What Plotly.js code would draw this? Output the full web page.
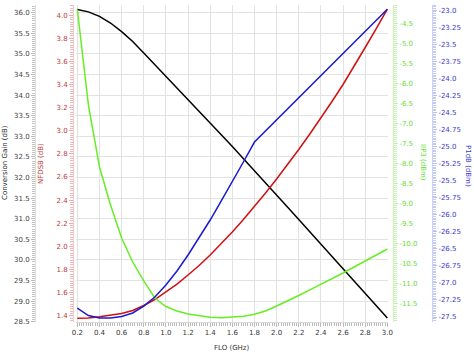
<!DOCTYPE html>
<html>
<head>
<meta charset="utf-8">
<script src="https://cdn.plot.ly/plotly-3.0.1.min.js"></script>
<style>html,body{margin:0;padding:0;background:#fff;}#chart{width:474px;height:352px;}</style>
</head>
<body>
<div id="chart"></div>
<script>
// FLO frequency (GHz)
const flo = [0.2,0.3,0.4,0.5,0.6,0.7,0.8,0.9,1.0,1.1,1.2,1.3,1.4,1.5,1.6,1.7,1.8,1.9,2.0,2.1,2.2,2.3,2.4,2.5,2.6,2.7,2.8,2.9,3.0];
// Conversion Gain (dB)
const convGain = [36.08,36.02,35.91,35.75,35.54,35.30,35.02,34.74,34.46,34.17,33.88,33.60,33.32,33.04,32.75,32.46,32.17,31.87,31.58,31.28,30.98,30.68,30.39,30.09,29.79,29.50,29.20,28.89,28.59];
// NFDSB (dB)
const nfdsb = [1.378,1.380,1.390,1.403,1.419,1.445,1.488,1.540,1.605,1.674,1.752,1.834,1.925,2.020,2.124,2.232,2.345,2.461,2.583,2.708,2.838,2.972,3.110,3.253,3.400,3.556,3.720,3.884,4.051];
// IIP3 (dBm)
const iip3 = [-4.156,-6.537,-8.084,-9.031,-9.854,-10.453,-10.926,-11.350,-11.562,-11.675,-11.749,-11.799,-11.832,-11.842,-11.832,-11.804,-11.757,-11.675,-11.550,-11.425,-11.288,-11.149,-11.014,-10.877,-10.727,-10.577,-10.428,-10.278,-10.128];
// P1dB (dBm)
const p1db = [-27.368,-27.478,-27.515,-27.515,-27.493,-27.441,-27.339,-27.207,-27.031,-26.825,-26.590,-26.341,-26.077,-25.798,-25.519,-25.226,-24.933,-24.771,-24.608,-24.446,-24.284,-24.121,-23.959,-23.797,-23.635,-23.472,-23.310,-23.148,-22.986];

// tick labels
const xTickVals = [0.2,0.4,0.6,0.8,1.0,1.2,1.4,1.6,1.8,2.0,2.2,2.4,2.6,2.8,3.0];
const cgTickVals = [28.5,29.0,29.5,30.0,30.5,31.0,31.5,32.0,32.5,33.0,33.5,34.0,34.5,35.0,35.5,36.0];
const nfTickVals = [1.4,1.6,1.8,2.0,2.2,2.4,2.6,2.8,3.0,3.2,3.4,3.6,3.8,4.0];
const iipTickVals = [-4.5,-5.0,-5.5,-6.0,-6.5,-7.0,-7.5,-8.0,-8.5,-9.0,-9.5,-10.0,-10.5,-11.0,-11.5];
const iipTickText = ['-4.5','-5.0','-5.5','-6.0','-6.5','-7.0','-7.5','-8.0','-8.5','-9.0','-9.5','-10.0','-10.5','-11.0','-11.5'];
const p1TickVals = [-23.0,-23.25,-23.5,-23.75,-24.0,-24.25,-24.5,-24.75,-25.0,-25.25,-25.5,-25.75,-26.0,-26.25,-26.5,-26.75,-27.0,-27.25,-27.5];
const p1TickText = ['-23.0','-23.25','-23.5','-23.75','-24.0','-24.25','-24.5','-24.75','-25.0','-25.25','-25.5','-25.75','-26.0','-26.25','-26.5','-26.75','-27.0','-27.25','-27.5'];

const W = 474, H = 352, T = 5, B = 30;
const px = v => v / W;
const py = v => (H - B - v) / (H - T - B);
const FONT = 'DejaVu Sans';

const traces = [
  {x: flo, y: convGain, yaxis: 'y', mode: 'lines', line: {color: '#000000', width: 1.5}},
  {x: flo, y: nfdsb, yaxis: 'y2', mode: 'lines', line: {color: '#d01010', width: 1.5}},
  {x: flo, y: iip3, yaxis: 'y3', mode: 'lines', line: {color: '#66ee22', width: 1.5}},
  {x: flo, y: p1db, yaxis: 'y4', mode: 'lines', line: {color: '#1a1ad0', width: 1.5}}
];

function yax(opts) {
  return Object.assign({
    anchor: 'free', ticks: 'outside', ticklen: 4, tickwidth: 1,
    showline: true, linewidth: 1, zeroline: false, showgrid: false,
    tickfont: {family: FONT, size: 7}, fixedrange: true
  }, opts);
}

const layout = {
  width: W, height: H,
  margin: {l: 0, r: 0, t: T, b: B, pad: 0},
  paper_bgcolor: '#ffffff', plot_bgcolor: '#ffffff',
  showlegend: false,
  font: {family: FONT, size: 7, color: '#333'},
  xaxis: {
    domain: [px(76), px(388)], range: [0.188, 3.006],
    tickvals: xTickVals, ticktext: xTickVals.map(v => v.toFixed(1)),
    ticks: 'outside', ticklen: 4, tickcolor: '#bbbbbb',
    showline: true, linecolor: '#d8d8d8',
    showgrid: true, gridcolor: '#e2e2e2', zeroline: false,
    tickfont: {family: FONT, size: 7, color: '#333'},
    minor: {dtick: 0.02, tick0: 0.2, ticklen: 3, tickcolor: '#bbbbbb', ticks: 'outside', showgrid: false}
  },
  yaxis: yax({
    position: px(35), side: 'left', range: [28.493, 36.187],
    tickvals: cgTickVals, ticktext: cgTickVals.map(v => v.toFixed(1)),
    tickcolor: '#bbbbbb', linecolor: '#dddddd', showgrid: true, gridcolor: '#e2e2e2',
    tickfont: {family: FONT, size: 7, color: '#444'},
    minor: {dtick: 0.05, tick0: 28.5, ticklen: 3, tickcolor: '#c4c4c4', ticks: 'outside', showgrid: false}
  }),
  yaxis2: yax({
    overlaying: 'y', position: px(73), side: 'left', range: [1.3455, 4.0877],
    tickvals: nfTickVals, ticktext: nfTickVals.map(v => v.toFixed(1)),
    tickcolor: '#eeaaaa', linecolor: '#f4c8c8',
    tickfont: {family: FONT, size: 7, color: '#c03838'},
    minor: {dtick: 0.02, tick0: 1.4, ticklen: 3, tickcolor: '#f0b8b8', ticks: 'outside', showgrid: false}
  }),
  yaxis3: yax({
    overlaying: 'y', position: px(393), side: 'right', range: [-11.949, -4.044],
    tickvals: iipTickVals, ticktext: iipTickText,
    tickcolor: '#b8f0a0', linecolor: '#cdf5bb',
    tickfont: {family: FONT, size: 7, color: '#66dd33'},
    minor: {dtick: 0.05, tick0: -11.5, ticklen: 3, tickcolor: '#c4f2b0', ticks: 'outside', showgrid: false}
  }),
  yaxis4: yax({
    overlaying: 'y', position: px(432), side: 'right', range: [-27.573, -22.923],
    tickvals: p1TickVals, ticktext: p1TickText,
    tickcolor: '#b8bff0', linecolor: '#ccd2f4',
    tickfont: {family: FONT, size: 7, color: '#3a3acc'},
    minor: {dtick: 0.025, tick0: -27.5, ticklen: 3, tickcolor: '#c4caf2', ticks: 'outside', showgrid: false}
  }),
  annotations: [
    {text: 'Conversion Gain (dB)', xref: 'paper', yref: 'paper', x: px(5), y: py(163), textangle: -90, showarrow: false, font: {family: FONT, size: 7, color: '#222'}, xanchor: 'center', yanchor: 'middle'},
    {text: 'NFDSB (dB)', xref: 'paper', yref: 'paper', x: px(41), y: py(164), textangle: -90, showarrow: false, font: {family: FONT, size: 7, color: '#c03838'}, xanchor: 'center', yanchor: 'middle'},
    {text: 'IIP3 (dBm)', xref: 'paper', yref: 'paper', x: px(423), y: py(162), textangle: 90, showarrow: false, font: {family: FONT, size: 7, color: '#66dd33'}, xanchor: 'center', yanchor: 'middle'},
    {text: 'P1dB (dBm)', xref: 'paper', yref: 'paper', x: px(468), y: py(166), textangle: 90, showarrow: false, font: {family: FONT, size: 7, color: '#3a3acc'}, xanchor: 'center', yanchor: 'middle'},
    {text: 'FLO (GHz)', xref: 'paper', yref: 'paper', x: px(232), y: py(347.5), showarrow: false, font: {family: FONT, size: 7, color: '#333'}, xanchor: 'center', yanchor: 'middle'}
  ]
};

Plotly.newPlot('chart', traces, layout, {staticPlot: true, displayModeBar: false});
</script>
</body>
</html>
